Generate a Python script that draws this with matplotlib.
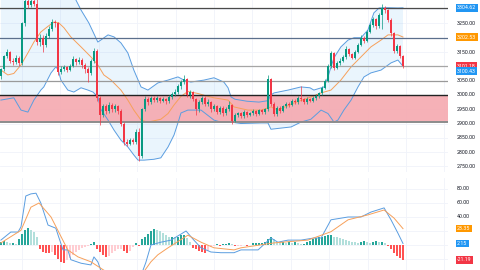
import matplotlib
matplotlib.use("Agg")
import matplotlib.pyplot as plt
import numpy as np
from matplotlib.transforms import offset_copy

# candles (one per bar)
opens = [3065, 3090, 3135, 3150, 3120, 3115, 3130, 3110, 3250, 3330,
         3315, 3330, 3318, 3185, 3200, 3175, 3205, 3230, 3255, 3250,
         3080, 3092, 3098, 3088, 3102, 3125, 3115, 3122, 3105, 3090,
         3075, 3120, 3155, 2990, 2930, 2960, 2945, 2965, 2950, 2960,
         2945, 2900, 2835, 2830, 2842, 2836, 2870, 2785, 2950, 2985,
         2975, 2990, 2982, 2988, 2980, 2986, 2978, 2992, 3002, 3012,
         3030, 3045, 3056, 3000, 3010, 2985, 2950, 2975, 2990, 2970,
         2976, 2950, 2962, 2940, 2955, 2936, 2950, 2965, 2910, 2930,
         2936, 2926, 2940, 2930, 2936, 2945, 2935, 2946, 2940, 2950,
         3055, 2970, 2935, 2955, 2945, 2960, 2970, 2965, 2980, 2975,
         2990, 2985, 2975, 2985, 2980, 2990, 2996, 3006, 3025, 3050,
         3100, 3145, 3095, 3110, 3120, 3132, 3160, 3142, 3130, 3150,
         3175, 3200, 3190, 3220, 3245, 3265, 3240, 3280, 3305, 3296,
         3262, 3215, 3152, 3172, 3136]
closes = [3090, 3135, 3150, 3120, 3115, 3130, 3110, 3250, 3330, 3315,
          3330, 3318, 3185, 3200, 3175, 3205, 3230, 3255, 3250, 3080,
          3092, 3098, 3088, 3102, 3125, 3115, 3122, 3105, 3090, 3075,
          3120, 3155, 2990, 2930, 2960, 2945, 2965, 2950, 2960, 2945,
          2900, 2835, 2830, 2842, 2836, 2870, 2785, 2950, 2985, 2975,
          2990, 2982, 2988, 2980, 2986, 2978, 2992, 3002, 3012, 3030,
          3045, 3056, 3000, 3010, 2985, 2950, 2975, 2990, 2970, 2976,
          2950, 2962, 2940, 2955, 2936, 2950, 2965, 2910, 2930, 2936,
          2926, 2940, 2930, 2936, 2945, 2935, 2946, 2940, 2950, 3055,
          2970, 2935, 2955, 2945, 2960, 2970, 2965, 2980, 2975, 2990,
          2985, 2975, 2985, 2980, 2990, 2996, 3006, 3025, 3050, 3100,
          3145, 3095, 3110, 3120, 3132, 3160, 3142, 3130, 3150, 3175,
          3200, 3190, 3220, 3245, 3265, 3240, 3280, 3305, 3296, 3262,
          3215, 3152, 3172, 3136, 3101.18]
highs = [3095, 3140, 3160, 3155, 3130, 3138, 3135, 3255, 3340, 3345,
         3345, 3342, 3335, 3212, 3210, 3215, 3240, 3265, 3262, 3255,
         3100, 3105, 3102, 3108, 3135, 3130, 3132, 3128, 3112, 3098,
         3126, 3165, 3160, 2998, 2968, 2970, 2975, 2972, 2968, 2965,
         2950, 2905, 2845, 2850, 2848, 2880, 2885, 2955, 2995, 2992,
         2998, 2995, 2996, 2994, 2994, 2990, 3000, 3010, 3020, 3038,
         3052, 3068, 3060, 3018, 3015, 2990, 2982, 2998, 2995, 2985,
         2980, 2970, 2966, 2962, 2960, 2958, 2980, 2970, 2936, 2942,
         2940, 2946, 2944, 2942, 2950, 2948, 2952, 2950, 2956, 3068,
         3060, 2975, 2962, 2960, 2966, 2976, 2975, 2986, 2985, 2996,
         3030, 2990, 2992, 2990, 2996, 3002, 3012, 3032, 3056, 3108,
         3155, 3150, 3118, 3128, 3140, 3172, 3165, 3148, 3156, 3182,
         3208, 3206, 3228, 3252, 3272, 3270, 3288, 3318, 3310, 3300,
         3268, 3220, 3178, 3176, 3140]
lows = [3055, 3085, 3128, 3110, 3105, 3108, 3100, 3105, 3240, 3305,
        3308, 3310, 3175, 3170, 3150, 3168, 3198, 3222, 3238, 3070,
        3072, 3085, 3080, 3082, 3096, 3105, 3108, 3095, 3078, 3045,
        3068, 3112, 2980, 2895, 2922, 2935, 2938, 2940, 2942, 2935,
        2890, 2825, 2820, 2825, 2828, 2830, 2770, 2778, 2945, 2965,
        2968, 2975, 2976, 2972, 2975, 2970, 2972, 2985, 2995, 3005,
        3022, 3038, 2992, 2990, 2978, 2930, 2942, 2968, 2962, 2962,
        2940, 2944, 2932, 2934, 2928, 2930, 2945, 2900, 2905, 2924,
        2918, 2920, 2922, 2925, 2930, 2928, 2930, 2934, 2935, 2945,
        2962, 2925, 2928, 2938, 2940, 2954, 2958, 2960, 2968, 2970,
        2978, 2968, 2970, 2974, 2975, 2984, 2990, 3000, 3020, 3045,
        3095, 3088, 3090, 3104, 3115, 3126, 3135, 3124, 3126, 3145,
        3170, 3182, 3185, 3215, 3238, 3232, 3235, 3230, 3285, 3255,
        3205, 3145, 3146, 3128, 3095]

# bollinger bands, points (bar index, price)
upper_x = [0, 10, 20, 25, 26.7, 29.3, 32.3, 33.3, 35.7, 37.7,
           40, 42.3, 44.3, 46.7, 49, 52.3, 55.7, 59, 61, 63.3,
           67.7, 71, 74.3, 75.7, 76.7, 78, 82, 86, 89, 90,
           91, 95.7, 100, 103, 104.3, 107.7, 109, 110, 111, 113.3,
           115.7, 117.7, 120, 122.3, 124.3, 126, 129, 132.3, 134]
upper = [3420, 3440, 3400, 3332, 3297, 3252, 3185, 3192, 3210, 3203,
         3182, 3147, 3087, 3028, 3017, 3042, 3052, 3063, 3052, 3045,
         3052, 3060, 3045, 3025, 2993, 2985, 2978, 2975, 2980, 3000,
         3007, 3017, 3028, 3025, 3017, 3028, 3063, 3098, 3130, 3168,
         3192, 3200, 3200, 3227, 3287, 3304, 3305, 3304, 3304.62]
lower_x = [0, 4.3, 6.7, 9, 11, 13.3, 14.3, 16.7, 18.3, 19,
           20, 22.3, 24.3, 26.7, 29, 30.7, 32.3, 33.3, 35.7, 37.7,
           40, 42.3, 44.3, 45.7, 47.7, 51, 53.3, 55.7, 57.7, 59.3,
           60, 62.3, 66.7, 71, 73.3, 76.7, 80, 86.7, 89, 90,
           93.3, 96.7, 100, 103.3, 106.7, 109, 111, 112.3, 114.3, 116.7,
           119, 121, 123.3, 126.7, 130, 132.3, 134]
lower = [2982, 2990, 2947, 2940, 2982, 3017, 3028, 3077, 3098, 3090,
         3052, 3017, 3010, 3025, 3017, 3010, 2993, 2950, 2912, 2877,
         2842, 2818, 2790, 2772, 2772, 2775, 2780, 2818, 2860, 2912,
         2937, 2947, 2947, 2912, 2905, 2905, 2900, 2902, 2902, 2880,
         2884, 2888, 2905, 2915, 2947, 2935, 2905, 2912, 2947, 2982,
         3028, 3063, 3077, 3087, 3112, 3122, 3100.43]
basis_x = [0, 2.3, 4.3, 6.7, 9, 11, 13.3, 15.7, 17.7, 19.3,
           21, 23.3, 26.7, 30, 32.3, 34.3, 36.7, 40, 42.3, 44.3,
           46.7, 49, 53.3, 55.7, 57.7, 60, 62.3, 65.7, 69, 71,
           75.7, 77.7, 82.3, 86.7, 90, 92.3, 97.7, 103.3, 106.7, 110,
           113.3, 116.7, 120, 123.3, 126.7, 129, 132.3, 134]
basis = [3087, 3070, 3075, 3105, 3147, 3185, 3220, 3240, 3255, 3252,
         3235, 3203, 3168, 3133, 3105, 3070, 3052, 3017, 2982, 2947,
         2912, 2905, 2915, 2935, 2965, 2995, 3012, 3005, 2995, 2990,
         2982, 2958, 2947, 2947, 2958, 2947, 2972, 2993, 3007, 3017,
         3052, 3098, 3133, 3168, 3192, 3210, 3210, 3202.53]

# macd panel
macd_x = [0, 3.3, 5.7, 6.7, 8.3, 10, 11.7, 13.3, 15.7, 18.3,
          19.3, 20.7, 22.3, 23.3, 26.7, 30, 31, 32.3, 33.3, 37,
          42, 46, 47, 48.3, 50, 53.3, 56.7, 59, 61.7, 64.3,
          66.7, 70, 73.3, 77.7, 80, 85.7, 90, 92.3, 95.7, 100,
          104.3, 106.7, 110, 115.7, 120, 123.3, 127.7, 130, 132.3, 134]
macd = [7, 18.5, 18.5, 26, 70, 73, 74, 60, 28.5, 24,
        11, -7, -7, -21, -26, -28.5, -17, -24, -36, -48,
        -58, -55, -40, -25, 0, 4, 7, 13, 20, 7,
        -4, -10, -11, -11, -7, -7, 10, 4, 7, 7,
        10, 10, 36, 40, 40, 47, 53, 36, 17, 2.15]
signal_x = [0, 6.7, 10, 12.7, 16.7, 22.3, 25.7, 30, 34.3, 40,
            46, 48, 50, 52.3, 55.7, 62.3, 66.7, 71, 77.7, 80,
            91, 102.3, 110, 115.7, 122.3, 127.7, 131, 134]
signal = [3, 21, 54, 60, 40, -7, -17, -24, -36, -46,
          -50, -36, -24, -14, -4, 14, 4, -4, -7, -4,
          3, 7, 19, 36, 43, 50, 38.5, 23.35]
hist = [5, 6, 4, 3, 3, 2, 8, 16, 22, 24,
        22, 18, 12, -5, -10, -11, -12, -10, -14, -20,
        -24, -26, -22, -18, -14, -10, -7, -4, -3, -2,
        1, 4, -5, -10, -14, -17, -15, -12, -9, -6,
        -5, -8, -11, -8, -3, 3, -1, 8, 12, 16,
        20, 23, 22, 20, 17, 14, 12, 12, 11, 12,
        14, 15, 10, 5, -4, -6, -8, -10, -12, -9,
        -3, -1, 1, -1, 1, 2, 3, 2, -2, -1,
        -1, 0.5, -1, 0.5, 3, 3, 3, 3, 4, 9,
        11, 8, 5, 4, 4, 3, 4, 3, 5, 3,
        2, 2, 4, 6, 8, 10, 11, 12, 13, 14,
        15, 12, 11, 10, 8, 7, 6, 5, 4, 3,
        5, 6, 4, 3, 5, 6, 4, 5, 3, -2,
        -6, -11, -15, -18, -21.19]

levels = [3305, 3200, 3100, 3050, 3000, 2905]
zone_low, zone_high = 2905, 3000
price_ticks = [2750, 2800, 2850, 2900, 2950, 3000, 3050, 3150, 3250]
macd_ticks = [40, 60, 80]

UP = "#089981"
DOWN = "#f23645"
FONT = "Roboto"

fig = plt.figure(figsize=(4.8, 2.7), dpi=100)
ax = fig.add_axes([0, 1 - 172 / 270, 448 / 480, 172 / 270])
ax2 = fig.add_axes([0, 0, 448 / 480, 92 / 270])

for a in (ax, ax2):
    a.set_xlim(-0.3, 149)
    for s in a.spines.values():
        s.set_visible(False)
    a.set_xticks([])
    a.set_yticks([])
    for gx in np.arange(7.0, 149, 12.8):
        a.axvline(gx, color="#f0f3fa", lw=0.6, zorder=0)

ax.set_ylim(2730.5, 3332)
ax2.set_ylim(-35.7, 95.7)
for t in range(2750, 3350, 50):
    ax.axhline(t, color="#f0f3fa", lw=0.6, zorder=0)
for t in range(-20, 100, 20):
    ax2.axhline(t, color="#f0f3fa", lw=0.6, zorder=0)

# price panel
ax.fill(upper_x + lower_x[::-1], upper + lower[::-1], color="#2196f3", alpha=0.09, lw=0, zorder=0.5)
ax.axhspan(zone_low, zone_high, color="#f6a9b0", alpha=0.9, lw=0, zorder=1)
ax.plot(upper_x, upper, color="#5a9de0", lw=0.7, zorder=2)
ax.plot(lower_x, lower, color="#5a9de0", lw=0.7, zorder=2)
ax.plot(basis_x, basis, color="#f7a05a", lw=0.7, zorder=2)

level_styles = [("#4a4a4a", 0.9), ("#5b6f8c", 0.9), ("#a6a6a6", 0.9),
                ("#9a9a9a", 0.9), ("#222222", 1.0), ("#8c8c8c", 1.4)]
for lv, (c, w) in zip(levels, level_styles):
    ax.axhline(lv, color=c, lw=w, zorder=2.5)

xs = np.arange(len(closes))
colors = [UP if c >= o else DOWN for o, c in zip(opens, closes)]
bottoms = [min(o, c) for o, c in zip(opens, closes)]
heights = [max(abs(c - o), 2) for o, c in zip(opens, closes)]
ax.vlines(xs, lows, highs, colors=colors, lw=0.5, zorder=3)
ax.bar(xs, heights, bottom=bottoms, width=0.62, color=colors, lw=0, zorder=3.1)

ytr = ax.get_yaxis_transform()
for t in price_ticks:
    ax.text(1.02, t, f"{t:.2f}", transform=ytr, fontsize=3.8, va="center",
            ha="left", color="#131722", family=FONT)

def tag(a, value, color, tr):
    a.text(1.02, value, f"{value:.2f}", transform=tr, fontsize=3.8, va="center",
           ha="left", color="white", family=FONT,
           bbox=dict(boxstyle="square,pad=0.25", fc=color, ec="none"))

tag(ax, 3304.62, "#2196f3", ytr)
tag(ax, 3202.53, "#ff9800", ytr)
tag(ax, 3101.18, "#f23645", ytr)
tag(ax, 3100.43, "#2196f3", offset_copy(ytr, fig=fig, y=-5, units="dots"))

# macd panel
hcolors = []
for i, h in enumerate(hist):
    prev = hist[i - 1] if i > 0 else h
    if h >= 0:
        hcolors.append("#26a69a" if h >= prev else "#b2dfdb")
    else:
        hcolors.append("#ff5252" if h < prev else "#ffcdd2")
ax2.bar(xs, hist, width=0.6, color=hcolors, lw=0, zorder=2)
ax2.plot(macd_x, macd, color="#5a9de0", lw=0.7, zorder=3)
ax2.plot(signal_x, signal, color="#f7a05a", lw=0.7, zorder=3)

ytr2 = ax2.get_yaxis_transform()
for t in macd_ticks:
    ax2.text(1.02, t, f"{t:.2f}", transform=ytr2, fontsize=3.8, va="center",
             ha="left", color="#131722", family=FONT)
tag(ax2, 23.35, "#ff9800", ytr2)
tag(ax2, 2.15, "#2196f3", ytr2)
tag(ax2, -21.19, "#f23645", ytr2)

fig.savefig("out.png", dpi=100)
